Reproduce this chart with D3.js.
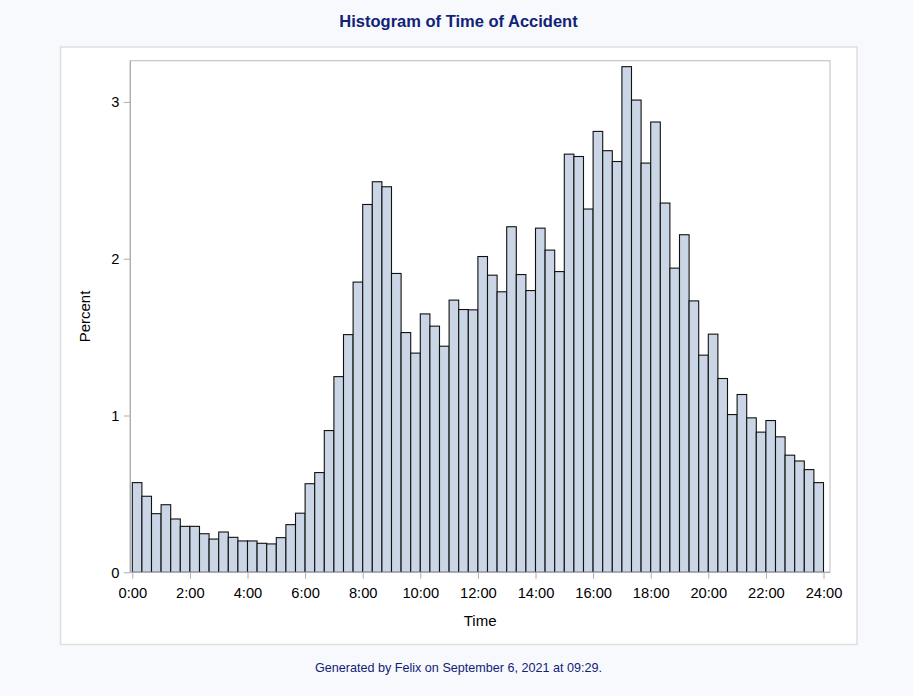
<!DOCTYPE html>
<meta charset="utf-8">
<script src="https://d3js.org/d3.v7.min.js"></script>
<style>
  body { margin: 0; background: #f8f9fd; }
  text { font-family: Arial, "Liberation Sans", sans-serif; }
</style>
<body>
<div id="chart"></div>
<script>
// histogram bins: 20 minute wide, start of each bin in hours
var binWidth = 1 / 3;
var binStart = d3.range(0, 24, binWidth);

// percent of accidents in each bin
var percent = [
  0.572, 0.485, 0.374, 0.431, 0.340, 0.293,
  0.293, 0.246, 0.212, 0.257, 0.223, 0.200,
  0.200, 0.185, 0.181, 0.221, 0.304, 0.377,
  0.565, 0.636, 0.904, 1.248, 1.516, 1.851,
  2.346, 2.491, 2.459, 1.906, 1.529, 1.398,
  1.648, 1.570, 1.442, 1.736, 1.676, 1.674,
  2.014, 1.895, 1.789, 2.204, 1.899, 1.797,
  2.195, 2.055, 1.918, 2.667, 2.652, 2.317,
  2.812, 2.689, 2.620, 3.225, 3.012, 2.610,
  2.872, 2.355, 1.940, 2.153, 1.731, 1.385,
  1.519, 1.236, 1.006, 1.134, 0.985, 0.894,
  0.968, 0.864, 0.747, 0.710, 0.655, 0.572
];

var xTicks = [0, 2, 4, 6, 8, 10, 12, 14, 16, 18, 20, 22, 24];
var xTickLabels = ["0:00", "2:00", "4:00", "6:00", "8:00", "10:00", "12:00",
  "14:00", "16:00", "18:00", "20:00", "22:00", "24:00"];
var yTicks = [0, 1, 2, 3];

var W = 913, H = 696;
var frame = {left: 130.3, right: 830, top: 60.7, bottom: 572.3};

var svg = d3.select("#chart").append("svg")
    .attr("width", W)
    .attr("height", H);

svg.append("rect")
    .attr("width", W).attr("height", H)
    .attr("fill", "#f8f9fd");

// white panel
svg.append("rect")
    .attr("x", 60.5).attr("y", 47)
    .attr("width", 796.5).attr("height", 597.5)
    .attr("fill", "#fff")
    .attr("stroke", "#dcdee2")
    .attr("stroke-width", 1.5);

// title and footnote
svg.append("text")
    .attr("x", 458.5).attr("y", 27)
    .attr("text-anchor", "middle")
    .attr("font-size", "16.5px")
    .attr("font-weight", "bold")
    .attr("fill", "#112277")
    .text("Histogram of Time of Accident");

svg.append("text")
    .attr("x", 458.5).attr("y", 672)
    .attr("text-anchor", "middle")
    .attr("font-size", "12.6px")
    .attr("fill", "#112277")
    .text("Generated by Felix on September 6, 2021 at 09:29.");

// scales
var x = d3.scaleLinear().domain([0, 24]).range([132.3, 823.5]);
var y = d3.scaleLinear().domain([0, 3.263]).range([frame.bottom, frame.top]);

// plot frame
svg.append("rect")
    .attr("x", frame.left).attr("y", frame.top)
    .attr("width", frame.right - frame.left)
    .attr("height", frame.bottom - frame.top)
    .attr("fill", "none")
    .attr("stroke", "#c4c7cb")
    .attr("stroke-width", 1.2);

// bars
svg.append("g")
  .selectAll("rect")
  .data(percent)
  .enter().append("rect")
    .attr("x", function(d, i) { return x(binStart[i]); })
    .attr("y", function(d) { return y(d); })
    .attr("width", function(d, i) { return x(binStart[i] + binWidth) - x(binStart[i]); })
    .attr("height", function(d) { return y(0) - y(d); })
    .attr("fill", "#cad5e5")
    .attr("stroke", "#111")
    .attr("stroke-width", 1.1);

// x axis
var xAxis = svg.append("g")
    .attr("transform", "translate(0," + frame.bottom + ")")
    .call(d3.axisBottom(x)
      .tickValues(xTicks)
      .tickFormat(function(d, i) { return xTickLabels[i]; })
      .tickSize(6.5)
      .tickPadding(8.5));
xAxis.select(".domain")
    .attr("d", "M" + frame.left + ",0H" + frame.right);

// y axis
var yAxis = svg.append("g")
    .attr("transform", "translate(" + frame.left + ",0)")
    .call(d3.axisLeft(y)
      .tickValues(yTicks)
      .tickFormat(d3.format("d"))
      .tickSize(6.6)
      .tickPadding(4.4));
yAxis.select(".domain")
    .attr("d", "M0," + frame.top + "V" + frame.bottom);

svg.selectAll(".tick text")
    .attr("font-size", "14.7px")
    .attr("font-family", "Arial, 'Liberation Sans', sans-serif")
    .attr("fill", "#000");
svg.selectAll(".tick line").attr("stroke", "#a9adb2");
svg.selectAll(".domain").attr("stroke", "#a9adb2").attr("stroke-width", 1.2);

// axis labels
svg.append("text")
    .attr("x", (frame.left + frame.right) / 2).attr("y", 626)
    .attr("text-anchor", "middle")
    .attr("font-size", "15px")
    .text("Time");

svg.append("text")
    .attr("transform", "translate(90," + ((frame.top + frame.bottom) / 2) + ") rotate(-90)")
    .attr("text-anchor", "middle")
    .attr("font-size", "15px")
    .text("Percent");
</script>
</body>
